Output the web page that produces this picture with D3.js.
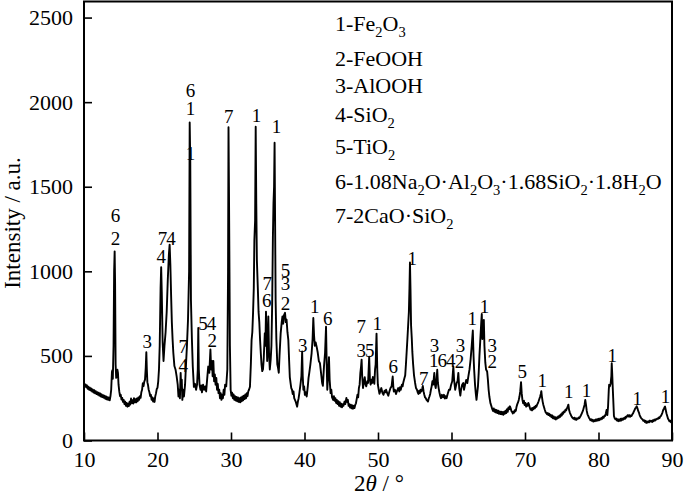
<!DOCTYPE html>
<html>
<head>
<meta charset="utf-8">
<script src="https://cdn.jsdelivr.net/npm/d3@7"></script>
<style>
  body { margin: 0; background: #fff; }
  svg { display: block; }
  svg text { font-family: "Liberation Serif", "Times New Roman", serif; }
</style>
</head>
<body>
<div id="chart"></div>
<script>
// XRD scan: [2theta, intensity]
var scan = [
[10.0,338],[10.1,320],[10.2,331],[10.3,314],[10.4,326],[10.5,306],[10.6,318],[10.7,300],[10.8,312],[10.9,296],
[11.0,307],[11.1,289],[11.2,301],[11.3,284],[11.4,297],[11.5,279],[11.6,292],[11.7,274],[11.8,286],[11.9,270],
[12.0,283],[12.1,265],[12.2,278],[12.3,260],[12.4,273],[12.5,256],[12.6,268],[12.7,252],[12.8,265],[12.9,246],
[13.0,260],[13.1,243],[13.2,256],[13.3,240],[13.4,254],[13.5,238],[13.6,262],[13.7,300],[13.8,405],[13.86,415],
[13.92,365],[14.02,560],[14.1,1000],[14.17,1118],[14.23,930],[14.3,450],[14.38,370],[14.46,395],[14.55,418],[14.62,400],
[14.7,330],[14.8,290],[14.9,262],[15.0,270],[15.1,242],[15.2,252],[15.3,228],[15.4,240],[15.5,215],[15.6,230],
[15.7,205],[15.8,222],[15.9,200],[16.0,218],[16.1,204],[16.2,230],[16.3,212],[16.4,248],[16.5,222],[16.6,238],
[16.7,218],[16.8,250],[16.9,226],[17.0,244],[17.1,225],[17.2,248],[17.3,232],[17.4,255],[17.5,240],[17.6,262],
[17.7,252],[17.8,285],[17.9,300],[18.0,338],[18.1,322],[18.2,348],[18.3,360],[18.4,430],[18.48,522],[18.55,420],
[18.62,345],[18.7,330],[18.8,300],[18.9,285],[19.0,262],[19.1,270],[19.2,240],[19.3,255],[19.4,230],[19.5,248],
[19.6,228],[19.7,262],[19.8,280],[19.9,305],[20.0,312],[20.1,350],[20.2,420],[20.3,560],[20.42,900],[20.5,1025],
[20.58,880],[20.7,580],[20.82,470],[20.95,560],[21.1,640],[21.25,760],[21.4,950],[21.55,1100],[21.65,1158],[21.75,1040],
[21.85,860],[21.95,700],[22.05,600],[22.15,520],[22.3,440],[22.45,420],[22.6,380],[22.75,330],[22.85,260],[22.95,300],
[23.05,250],[23.15,400],[23.22,310],[23.3,360],[23.38,240],[23.48,300],[23.6,260],[23.75,330],[23.9,470],[24.0,555],
[24.15,713],[24.3,1000],[24.38,1880],[24.46,1650],[24.55,830],[24.68,600],[24.8,437],[24.95,317],[25.1,335],[25.25,300],
[25.38,330],[25.48,420],[25.55,665],[25.62,420],[25.72,330],[25.85,300],[25.95,325],[26.05,285],[26.2,330],[26.35,300],
[26.5,320],[26.62,290],[26.75,360],[26.9,437],[27.05,400],[27.2,538],[27.3,420],[27.42,470],[27.5,380],[27.6,470],
[27.7,350],[27.8,390],[27.9,330],[28.0,370],[28.1,300],[28.2,335],[28.3,280],[28.4,300],[28.5,250],[28.6,280],
[28.7,240],[28.8,270],[28.9,250],[29.0,300],[29.1,270],[29.2,330],[29.35,320],[29.5,420],[29.6,1000],[29.66,1852],
[29.72,1500],[29.8,950],[29.85,560],[29.95,300],[30.05,265],[30.15,282],[30.25,250],[30.35,272],[30.45,240],[30.55,262],
[30.65,236],[30.75,258],[30.85,232],[30.95,255],[31.05,228],[31.15,250],[31.25,226],[31.35,254],[31.45,232],[31.55,260],
[31.65,238],[31.75,265],[31.85,245],[31.95,272],[32.05,250],[32.15,280],[32.25,262],[32.35,290],[32.45,300],[32.58,318],
[32.7,450],[32.8,594],[32.9,640],[33.0,753],[33.1,900],[33.18,1185],[33.28,1300],[33.36,1855],[33.44,1400],[33.52,1067],
[33.65,900],[33.75,760],[33.85,700],[33.95,600],[34.05,520],[34.15,450],[34.25,410],[34.35,420],[34.45,480],[34.6,635],
[34.68,560],[34.76,762],[34.85,600],[34.92,470],[35.0,560],[35.08,733],[35.17,520],[35.28,420],[35.4,480],[35.5,560],
[35.6,800],[35.7,1200],[35.78,1403],[35.86,1500],[35.93,1760],[36.0,1300],[36.07,830],[36.17,600],[36.3,450],[36.4,430],
[36.5,400],[36.6,500],[36.76,635],[36.9,700],[37.0,733],[37.1,690],[37.2,740],[37.35,755],[37.45,700],[37.56,715],
[37.68,640],[37.8,594],[37.9,480],[38.0,375],[38.1,340],[38.2,310],[38.3,300],[38.4,275],[38.5,290],[38.6,250],
[38.7,240],[38.8,230],[38.9,215],[39.0,200],[39.1,230],[39.2,250],[39.3,280],[39.45,330],[39.58,380],[39.68,526],
[39.76,380],[39.85,300],[39.95,320],[40.05,270],[40.15,285],[40.3,260],[40.45,320],[40.55,370],[40.65,400],[40.8,450],
[40.97,517],[41.1,600],[41.2,724],[41.3,620],[41.4,560],[41.52,580],[41.65,555],[41.8,520],[41.95,470],[42.1,457],
[42.25,400],[42.4,340],[42.5,323],[42.65,437],[42.8,520],[42.93,673],[43.02,450],[43.1,300],[43.2,380],[43.33,493],
[43.42,360],[43.55,280],[43.65,300],[43.75,255],[43.9,240],[44.0,262],[44.1,235],[44.2,250],[44.3,222],[44.4,240],
[44.5,215],[44.6,232],[44.7,205],[44.8,226],[44.9,200],[45.0,218],[45.1,196],[45.2,215],[45.3,205],[45.45,230],
[45.55,215],[45.7,252],[45.8,228],[45.9,240],[46.0,205],[46.1,215],[46.2,195],[46.3,212],[46.4,190],[46.5,208],
[46.6,188],[46.7,205],[46.8,192],[46.9,210],[47.0,220],[47.1,245],[47.2,270],[47.3,255],[47.4,310],[47.5,330],
[47.6,400],[47.7,440],[47.77,478],[47.85,380],[47.96,310],[48.05,340],[48.2,374],[48.3,330],[48.4,320],[48.55,350],
[48.65,340],[48.8,495],[48.9,360],[49.0,330],[49.1,360],[49.2,340],[49.3,375],[49.4,350],[49.5,335],[49.6,420],
[49.68,450],[49.8,632],[49.9,420],[49.98,330],[50.1,300],[50.2,276],[50.3,290],[50.45,310],[50.6,282],[50.75,270],
[50.9,295],[51.0,285],[51.1,300],[51.25,280],[51.4,265],[51.55,290],[51.7,310],[51.85,320],[51.95,360],[52.0,378],
[52.08,320],[52.15,290],[52.3,300],[52.45,275],[52.6,295],[52.75,310],[52.9,290],[53.0,315],[53.1,300],[53.25,330],
[53.35,320],[53.45,345],[53.6,370],[53.7,385],[53.8,450],[53.9,525],[54.0,600],[54.1,680],[54.2,760],[54.28,900],
[54.35,1052],[54.42,900],[54.5,680],[54.6,600],[54.67,525],[54.78,450],[54.9,385],[55.05,340],[55.17,310],[55.3,300],
[55.4,285],[55.5,275],[55.6,295],[55.7,280],[55.8,300],[55.9,290],[56.0,305],[56.1,322],[56.2,290],[56.3,270],
[56.4,255],[56.5,250],[56.6,240],[56.7,235],[56.8,230],[56.9,248],[57.0,260],[57.1,275],[57.2,300],[57.3,320],
[57.4,350],[57.5,330],[57.6,370],[57.66,400],[57.75,330],[57.85,310],[57.95,350],[58.06,418],[58.15,340],[58.25,310],
[58.35,285],[58.45,265],[58.57,250],[58.7,270],[58.85,255],[58.97,270],[59.1,248],[59.2,262],[59.33,250],[59.45,270],
[59.55,285],[59.65,300],[59.8,300],[59.95,330],[60.1,350],[60.25,437],[60.35,360],[60.5,300],[60.6,320],[60.7,340],
[60.82,350],[60.93,400],[61.05,310],[61.2,265],[61.3,300],[61.45,330],[61.6,340],[61.7,300],[61.85,330],[62.0,358],
[62.15,340],[62.3,380],[62.45,420],[62.6,480],[62.75,560],[62.9,650],[63.0,500],[63.08,420],[63.2,330],[63.3,280],
[63.4,240],[63.5,280],[63.6,320],[63.7,400],[63.8,500],[63.95,620],[64.05,700],[64.12,748],[64.2,600],[64.3,650],
[64.4,713],[64.48,560],[64.6,460],[64.7,420],[64.85,408],[64.95,360],[65.05,300],[65.15,260],[65.3,220],[65.45,200],
[65.55,185],[65.65,175],[65.75,190],[65.85,170],[65.95,182],[66.05,165],[66.15,180],[66.25,162],[66.35,176],[66.45,158],
[66.55,172],[66.65,156],[66.75,170],[66.85,155],[66.95,168],[67.05,152],[67.15,170],[67.25,158],[67.35,176],[67.45,162],
[67.55,185],[67.65,170],[67.75,195],[67.85,185],[67.95,202],[68.05,190],[68.15,175],[68.25,168],[68.35,160],[68.45,172],
[68.55,165],[68.65,180],[68.75,175],[68.85,200],[68.95,215],[69.05,225],[69.15,240],[69.25,260],[69.35,290],[69.46,345],
[69.55,280],[69.65,240],[69.75,220],[69.85,235],[69.95,210],[70.05,222],[70.15,200],[70.25,215],[70.35,205],[70.45,222],
[70.55,212],[70.65,195],[70.75,182],[70.85,190],[70.95,178],[71.05,192],[71.15,185],[71.25,198],[71.35,190],[71.45,205],
[71.55,200],[71.65,212],[71.75,220],[71.85,232],[71.95,245],[72.05,258],[72.15,275],[72.22,292],[72.3,260],[72.4,230],
[72.5,210],[72.6,195],[72.7,180],[72.8,168],[72.9,162],[73.0,155],[73.1,162],[73.2,150],[73.3,158],[73.4,145],
[73.5,152],[73.6,138],[73.7,148],[73.8,132],[73.9,142],[74.0,128],[74.1,138],[74.2,124],[74.3,136],[74.4,130],
[74.5,142],[74.6,135],[74.7,148],[74.8,140],[74.9,155],[75.0,148],[75.1,165],[75.2,158],[75.3,172],[75.4,168],
[75.5,182],[75.6,178],[75.7,190],[75.8,198],[75.9,212],[76.0,180],[76.1,165],[76.2,155],[76.3,145],[76.4,138],
[76.5,132],[76.6,128],[76.7,135],[76.8,124],[76.9,132],[77.0,122],[77.1,130],[77.2,128],[77.3,136],[77.4,132],
[77.5,140],[77.6,148],[77.7,158],[77.8,168],[77.9,178],[78.0,195],[78.1,210],[78.2,240],[78.3,210],[78.4,175],
[78.5,155],[78.6,145],[78.7,135],[78.8,128],[78.9,120],[79.0,126],[79.1,116],[79.2,122],[79.3,112],[79.4,120],
[79.5,114],[79.6,124],[79.7,116],[79.8,126],[79.9,118],[80.0,128],[80.1,120],[80.2,130],[80.3,124],[80.4,134],
[80.5,128],[80.6,140],[80.7,134],[80.8,146],[80.9,145],[81.0,160],[81.1,180],[81.2,150],[81.3,200],[81.4,300],
[81.45,330],[81.55,320],[81.65,336],[81.75,380],[81.8,457],[81.86,400],[81.92,332],[82.0,250],[82.1,145],[82.2,132],
[82.3,125],[82.4,130],[82.5,118],[82.6,126],[82.7,114],[82.8,124],[82.9,116],[83.0,128],[83.1,118],[83.2,130],
[83.3,122],[83.4,126],[83.5,135],[83.6,128],[83.7,140],[83.8,136],[83.9,146],[84.0,150],[84.1,142],[84.2,150],
[84.3,140],[84.4,148],[84.5,145],[84.6,155],[84.7,160],[84.8,170],[84.9,180],[85.0,190],[85.1,195],[85.2,202],
[85.3,190],[85.4,175],[85.5,165],[85.6,150],[85.7,140],[85.8,132],[85.9,128],[86.0,124],[86.1,116],[86.2,120],
[86.3,110],[86.4,116],[86.5,104],[86.6,112],[86.7,106],[86.8,114],[86.9,108],[87.0,118],[87.1,112],[87.2,116],
[87.3,110],[87.4,120],[87.5,114],[87.6,124],[87.7,118],[87.8,126],[87.9,124],[88.0,130],[88.1,128],[88.2,136],
[88.3,132],[88.4,142],[88.5,145],[88.6,155],[88.7,165],[88.8,180],[88.9,188],[89.0,198],[89.05,201],[89.15,180],
[89.25,160],[89.35,145],[89.45,130],[89.55,122],[89.65,114],[89.75,118],[89.85,108],[89.95,112],[90.0,105]
];

// phase marks over the peaks: [text, 2theta, intensity at text baseline]
var peakTags = [
["6",14.22,1293],["2",14.22,1156],["3",18.53,545],["4",20.44,1047],["74",21.2,1156],
["7",23.43,517],["4",23.45,407],["6",24.42,2030],["1",24.42,1924],["1",24.42,1658],
["54",26.69,653],["2",27.37,554],["7",29.63,1877],["1",33.4,1884],["7",34.86,890],
["6",34.8,791],["1",36.12,1818],["5",37.35,968],["3",37.35,890],["2",37.35,771],
["3",39.7,525],["1",41.33,752],["6",43.1,683],["7",47.65,634],["35",48.23,495],
["1",49.82,653],["6",52.0,397],["1",54.58,1037],["7",56.16,328],["3",57.62,525],
["164",58.67,436],["3",61.16,525],["2",61.02,427],["1",62.75,683],["1",64.42,752],
["3",65.47,525],["2",65.47,427],["5",69.55,368],["1",72.27,318],["1",75.89,251],
["1",78.3,259],["1",81.8,466],["1",85.2,210],["1",89.05,220]
];

// legend, "_" marks a subscript digit run
var phaseNames = [
"1-Fe_2O_3",
"2-FeOOH",
"3-AlOOH",
"4-SiO_2",
"5-TiO_2",
"6-1.08Na_2O·Al_2O_3·1.68SiO_2·1.8H_2O",
"7-2CaO·SiO_2"
];

var xTicks = [10, 20, 30, 40, 50, 60, 70, 80, 90];
var yTicks = [0, 500, 1000, 1500, 2000, 2500];
var xTitle = "2θ / °";
var yTitle = "Intensity / a.u.";

function drawxrd() {
    var W = 685, H = 496;
    var left = 84, right = 672, top = 1.5, bottom = 440.5;
    var serif = "Liberation Serif, Times New Roman, serif";
    var legendX = 335;
    var legendRowY = [31, 66, 93.3, 121.7, 154, 189, 222.7];

    var svg = d3.select("#chart")
        .append("svg")
        .attr("width", W)
        .attr("height", H)
        .attr("font-family", serif);

    var x = d3.scaleLinear().domain([10, 90]).range([left, right]);
    var y = d3.scaleLinear().domain([0, 2595]).range([bottom, top]);

    // x axis, ticks pointing inward
    var gx = svg.append("g")
        .attr("transform", "translate(0," + bottom + ")")
        .call(d3.axisBottom(x).tickValues(xTicks).tickFormat(d3.format("d"))
            .tickSizeInner(-8).tickSizeOuter(0).tickPadding(10.5));
    gx.attr("font-family", serif).attr("font-size", 22);
    gx.select(".domain").remove();
    gx.selectAll("line").attr("stroke", "#000").attr("stroke-width", 1.6);
    gx.selectAll("text").attr("fill", "#000");

    var gy = svg.append("g")
        .attr("transform", "translate(" + left + ",0)")
        .call(d3.axisLeft(y).tickValues(yTicks).tickFormat(d3.format("d"))
            .tickSizeInner(-8).tickSizeOuter(0).tickPadding(11));
    gy.attr("font-family", serif).attr("font-size", 22);
    gy.select(".domain").remove();
    gy.selectAll("line").attr("stroke", "#000").attr("stroke-width", 1.6);
    gy.selectAll("text").attr("fill", "#000");

    // the pattern
    var line = d3.line()
        .x(function (d) { return x(d[0]); })
        .y(function (d) { return y(d[1]); });

    svg.append("path")
        .datum(scan)
        .attr("d", line)
        .attr("fill", "none")
        .attr("stroke", "#000")
        .attr("stroke-width", 1.9)
        .attr("stroke-linejoin", "round");

    // frame
    svg.append("rect")
        .attr("x", left)
        .attr("y", top)
        .attr("width", right - left)
        .attr("height", bottom - top)
        .attr("fill", "none")
        .attr("stroke", "#000")
        .attr("stroke-width", 2);

    // peak marks
    svg.append("g")
        .attr("font-size", 19)
        .selectAll("text")
        .data(peakTags)
        .enter()
        .append("text")
        .attr("x", function (d) { return x(d[1]); })
        .attr("y", function (d) { return y(d[2]); })
        .attr("text-anchor", "middle")
        .attr("letter-spacing", -1)
        .text(function (d) { return d[0]; });

    // legend with subscripts
    var legend = svg.append("g").attr("font-size", 22);
    phaseNames.forEach(function (name, i) {
        var t = legend.append("text")
            .attr("x", legendX)
            .attr("y", legendRowY[i]);
        var parts = name.split(/_(\d+)/);
        var shift = 0;
        parts.forEach(function (p, k) {
            if (p === "") return;
            var sub = k % 2 === 1;
            var ts = t.append("tspan").text(p);
            if (sub) {
                ts.attr("font-size", 14.5).attr("dy", 6 - shift);
                shift = 6;
            } else if (shift) {
                ts.attr("dy", -shift);
                shift = 0;
            }
        });
    });

    // axis titles
    var xt = svg.append("text")
        .attr("x", (left + right) / 2 + 1)
        .attr("y", 491)
        .attr("text-anchor", "middle")
        .attr("font-size", 23);
    xt.append("tspan").text(xTitle.charAt(0));
    xt.append("tspan").attr("font-style", "italic").text(xTitle.charAt(1));
    xt.append("tspan").text(xTitle.slice(2));

    svg.append("text")
        .attr("transform", "translate(20," + 223 + ") rotate(-90)")
        .attr("text-anchor", "middle")
        .attr("font-size", 23)
        .text(yTitle);
}

drawxrd();
</script>
</body>
</html>
